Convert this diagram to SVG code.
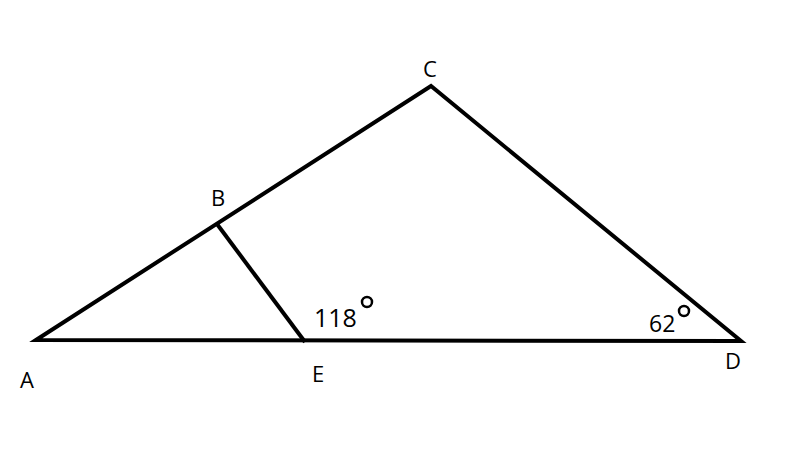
<svg xmlns="http://www.w3.org/2000/svg" width="792" height="464" viewBox="0 0 792 464">
<style>
.ln{stroke:#000;stroke-width:4;fill:none;stroke-linejoin:miter}
.lb{font-family:"Open Sans","Noto Sans",sans-serif;font-size:22px;fill:#000}
.num{font-family:"Open Sans","Noto Sans",sans-serif;fill:#000}
.deg{stroke:#000;stroke-width:2.5;fill:none}
</style>
<rect width="792" height="464" fill="#fff"/>
<g id="connectors">
<polygon class="ln" points="36,340 431,86 741,341"/>
<line class="ln" x1="217" y1="224" x2="305" y2="342"/>
</g>
<g id="A"><text class="lb" x="27" y="388" text-anchor="middle">A</text></g>
<g id="B"><text class="lb" x="218" y="206" text-anchor="middle">B</text></g>
<g id="C"><text class="lb" x="430" y="77" text-anchor="middle">C</text></g>
<g id="D"><text class="lb" x="733" y="369" text-anchor="middle">D</text></g>
<g id="E"><text class="lb" x="318" y="382" text-anchor="middle">E</text></g>
<g id="angleE"><text class="num" x="314" y="327" font-size="25">118</text><circle class="deg" cx="367" cy="302" r="5"/></g>
<g id="angleD"><text class="num" x="649" y="332" font-size="23">62</text><circle class="deg" cx="684" cy="311" r="5"/></g>
</svg>
